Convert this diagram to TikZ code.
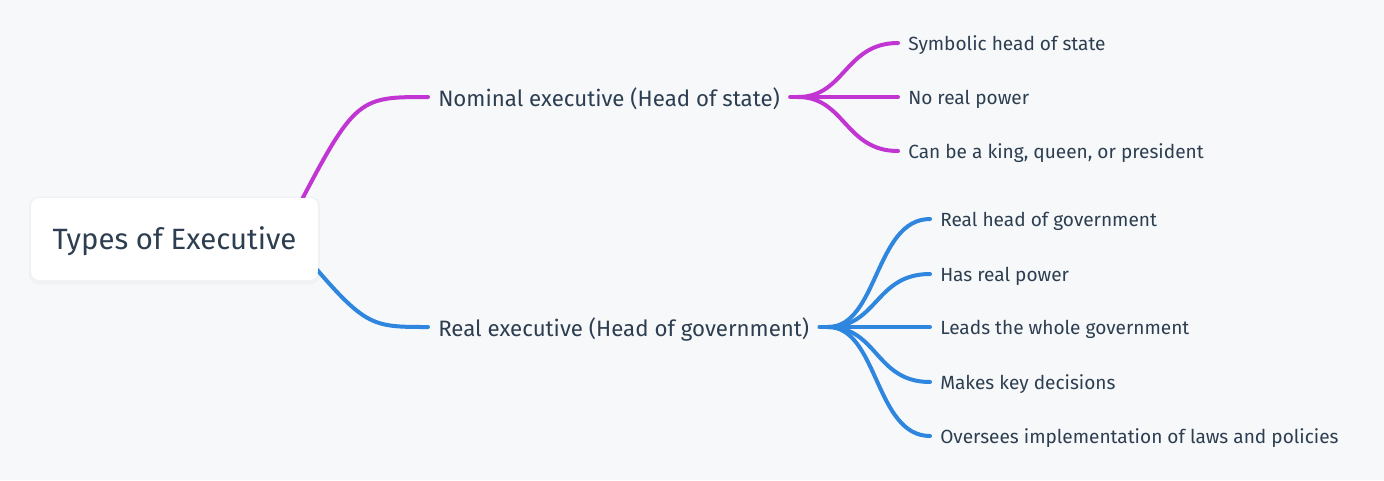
\documentclass[tikz,border=0pt]{standalone}
\usepackage{fontspec}
\setmainfont{Fira Sans}
\usepackage{tikz}
\usetikzlibrary{calc,backgrounds,positioning}
\definecolor{Canvas}{RGB}{247,248,250}
\definecolor{Ink}{RGB}{44,62,80}
\definecolor{Violet}{RGB}{193,54,210}
\definecolor{SkyBlue}{RGB}{46,134,222}

\begin{document}
\begin{tikzpicture} [x=0.75pt, y=-0.75pt, text=Ink,
	   every node/.style={font=\fontsize{14.3}{17}\selectfont},
	   rootnode/.style = {rectangle, rounded corners=6pt, fill=white,
	                      minimum width=215pt, minimum height=61.5pt,
	                      text height=19pt, text depth=3.5pt,
	                      font=\fontsize{22}{26}\selectfont},
	   branchnode/.style = {anchor=west, inner xsep=7.5pt, yshift=-1.5pt,
	                        font=\fontsize{16.7}{20}\selectfont},
	   leafnode/.style = {anchor=west, inner xsep=7.5pt, yshift=-1.5pt},
	   link/.style = {draw=#1, line width=3pt, line cap=round}]
	%% Root
	\node [rootnode] (root) at (174.5,239) {Types of Executive};
	\coordinate (hub) at ($(root.east)+(-33,-7)$);

	%% Branches
	\node [branchnode] (nominal) at (428,97) {Nominal executive (Head of state)};
	\node [branchnode] (real) at (428,327) {Real executive (Head of government)};
	\coordinate (nominalstart) at (428,97);
	\coordinate (realstart) at (428,327);
	\coordinate (nominalhub) at (798,97);
	\coordinate (realhub) at (828,327);

	%% Leaves of the nominal executive
	\node [leafnode] (symbolic) at (898,43) {Symbolic head of state};
	\node [leafnode] (nopower) at (898,97) {No real power};
	\node [leafnode] (monarch) at (898,151) {Can be a king, queen, or president};

	%% Leaves of the real executive
	\node [leafnode] (govhead) at (930,219) {Real head of government};
	\node [leafnode] (haspower) at (930,274) {Has real power};
	\node [leafnode] (leads) at (930,327) {Leads the whole government};
	\node [leafnode] (decisions) at (930,382) {Makes key decisions};
	\node [leafnode] (oversees) at (930,436) {Oversees implementation of laws and policies};

	\begin{scope}[on background layer]
		\fill[Canvas] (0,0) rectangle (1384,480);
		\fill[Ink, opacity=0.03, rounded corners=7pt] ($(root.south west)+(-2,4)$) rectangle ($(root.north east)+(2,-1)$);
		%% Root to branches
		\draw[link=Violet] (hub) .. controls ($(nominalstart)+(-73,0)$) .. (nominalstart);
		\draw[link=SkyBlue] (hub) .. controls ($(realstart)+(-63,0)$) .. (realstart);
		%% Branches to leaves
		\draw[link=Violet] (nominal.east |- nominalhub) -- (nominalhub);
		\draw[link=Violet] (nominalhub) .. controls +(47,0) and +(-53,0) .. (symbolic.west |- 0,43);
		\draw[link=Violet] (nominalhub) -- (nopower.west |- nominalhub);
		\draw[link=Violet] (nominalhub) .. controls +(47,0) and +(-53,0) .. (monarch.west |- 0,151);
		\draw[link=SkyBlue] (real.east |- realhub) -- (realhub);
		\draw[link=SkyBlue] (realhub) .. controls +(50,0) and +(-55,0) .. (govhead.west |- 0,219);
		\draw[link=SkyBlue] (realhub) .. controls +(50,0) and +(-55,0) .. (haspower.west |- 0,274);
		\draw[link=SkyBlue] (realhub) -- (leads.west |- realhub);
		\draw[link=SkyBlue] (realhub) .. controls +(50,0) and +(-55,0) .. (decisions.west |- 0,382);
		\draw[link=SkyBlue] (realhub) .. controls +(50,0) and +(-55,0) .. (oversees.west |- 0,436);
	\end{scope}
\end{tikzpicture}
\end{document}
